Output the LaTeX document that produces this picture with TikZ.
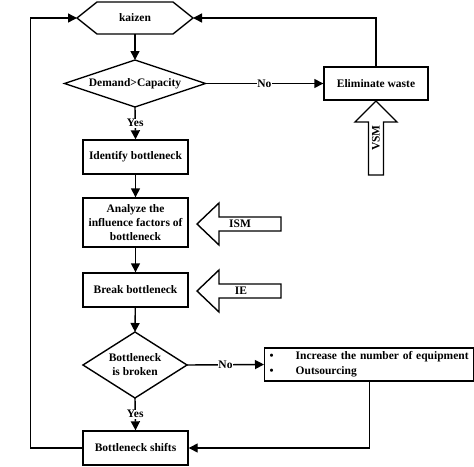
\documentclass[tikz,border=0pt]{standalone}
\usepackage{fontspec}
\setmainfont{Liberation Serif}
\usetikzlibrary{arrows.meta}
\begin{document}
\begin{tikzpicture}[x=1pt,y=-1pt,
  font=\fontsize{11.5}{14}\selectfont\bfseries,
  line width=1.4pt,
  box/.style={draw, rectangle, minimum width=105pt, minimum height=34pt, align=center, inner sep=1pt},
  dtext/.style={align=center, inner sep=0pt},
  arr/.style={-{Triangle[length=9pt,width=9pt]}},
  lbl/.style={fill=white, inner sep=0.6pt},
  blockarrow/.style={draw, line width=1.4pt, fill=white, line join=miter}]
\useasboundingbox (0,0) rectangle (474,466);

% kaizen hexagon
\node (kz) at (135,18) {kaizen};
\coordinate (kzL) at (77,18);
\coordinate (kzR) at (193,18);
\coordinate (kzB) at (135,34);
\draw (kzL) -- (97,2) -- (173,2) -- (kzR) -- (173,34) -- (97,34) -- cycle;

% decision 1
\node[dtext] (d1) at (135,83.5) {Demand>Capacity};
\coordinate (d1n) at (135,60);
\coordinate (d1e) at (205.5,83.5);
\coordinate (d1s) at (135,107);
\coordinate (d1w) at (64.5,83.5);
\draw (d1n) -- (d1e) -- (d1s) -- (d1w) -- cycle;

% decision 2
\node[dtext] (d2) at (135,365) {Bottleneck\\is broken};
\coordinate (d2n) at (135,332);
\coordinate (d2e) at (187,365);
\coordinate (d2s) at (135,398);
\coordinate (d2w) at (83,365);
\draw (d2n) -- (d2e) -- (d2s) -- (d2w) -- cycle;

% boxes
\node[box] (ident) at (135.5,157) {Identify bottleneck};
\node[box, minimum height=49pt] (anal) at (135.5,222.5) {Analyze the\\influence factors of\\bottleneck};
\node[box] (brk) at (135.5,290) {Break bottleneck};
\node[box] (shift) at (135.5,448) {Bottleneck shifts};
\node[box, minimum width=104pt, minimum height=33pt] (elim) at (376,83.5) {Eliminate waste};
\node[draw, rectangle, anchor=west, minimum height=33pt, inner xsep=5pt, inner ysep=1pt,
      text width=199pt, align=left, font=\fontsize{11.5}{15}\selectfont\bfseries] (list) at (264,364.5)
  {\makebox[26pt][l]{\textbullet}Increase the number of equipment\\\makebox[26pt][l]{\textbullet}Outsourcing};

% block arrows
\draw[blockarrow] (376,101) -- (397,122) -- (383.5,122) -- (383.5,175) -- (368.5,175) -- (368.5,122) -- (355,122) -- cycle;
\node[rotate=90] (vsm) at (376,138) {VSM};
\draw[blockarrow] (197,224) -- (219,203) -- (219,217) -- (281,217) -- (281,231) -- (219,231) -- (219,245) -- cycle;
\node (ism) at (240,224) {ISM};
\draw[blockarrow] (197,291) -- (219,270) -- (219,284) -- (281,284) -- (281,298) -- (219,298) -- (219,312) -- cycle;
\node (ie) at (241,291) {IE};

% connectors
\draw[arr] (kzB) -- (d1n);
\draw[arr] (d1e) -- node[lbl]{No} (elim.west);
\draw[arr] (d1s) -- node[lbl]{Yes} (ident.north);
\draw[arr] (ident) -- (anal);
\draw[arr] (anal) -- (brk);
\draw[arr] (brk) -- (d2n);
\draw[arr] (d2e) -- node[lbl]{No} (list.west);
\draw[arr] (d2s) -- node[lbl]{Yes} (shift.north);
\draw[arr] (list.south) |- (shift.east);
\draw[arr] (shift.west) -- ++(-52,0) |- (kzL);
\draw[arr] (elim.north) |- (kzR);
\end{tikzpicture}
\end{document}
